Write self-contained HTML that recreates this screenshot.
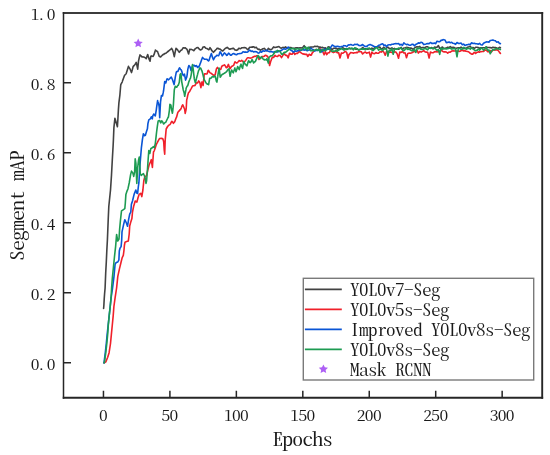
<!DOCTYPE html>
<html><head><meta charset="utf-8"><title>Segment mAP vs Epochs</title>
<style>html,body{margin:0;padding:0;background:#fff}svg{display:block}</style></head>
<body><svg width="550" height="455" viewBox="0 0 550 455">
<rect width="550" height="455" fill="#fff"/>
<polyline fill="none" stroke="#424242" stroke-width="1.60" stroke-linejoin="round" stroke-linecap="round" points="103.6,308.5 103.9,305.0 104.2,299.1 104.6,293.5 105.1,288.0 105.7,273.0 106.3,262.0 106.8,251.0 107.4,240.0 108.3,217.5 108.8,206.5 110.5,190.0 111.5,175.0 112.3,160.0 113.1,146.0 113.4,140.0 113.9,127.7 114.9,118.3 117.4,126.7 117.9,118.8 118.4,109.9 118.9,102.9 119.4,98.9 119.9,95.0 120.7,85.3 120.8,84.6 122.1,82.1 122.3,81.6 123.4,78.5 124.6,75.3 124.7,75.2 126.1,73.7 126.2,73.6 127.4,69.8 128.5,66.3 128.7,66.8 130.0,68.9 130.0,69.0 131.4,72.3 131.5,72.6 132.7,68.2 133.1,66.6 134.0,65.6 134.6,65.0 135.4,64.0 136.2,62.4 136.7,64.4 137.7,69.1 138.0,66.1 138.5,61.2 139.3,57.5 140.0,54.9 140.7,55.5 142.0,56.9 142.3,57.0 143.3,56.9 144.6,57.3 144.7,57.4 146.0,58.4 146.2,58.6 147.3,55.6 147.7,54.6 148.6,57.6 149.2,59.5 150.0,61.2 150.0,61.3 150.8,56.3 151.3,55.9 152.6,56.3 153.1,56.5 154.0,54.7 155.3,50.4 155.4,50.0 156.6,51.0 157.7,51.8 157.9,52.5 159.2,56.2 159.3,56.2 160.6,57.0 161.5,55.9 161.9,55.6 163.3,54.4 163.8,54.4 164.6,53.6 165.9,53.3 166.2,52.8 167.2,52.1 167.3,52.0 168.6,51.0 169.4,50.3 169.9,49.9 171.2,48.8 171.6,48.4 172.6,50.2 173.2,51.9 173.9,54.9 174.3,56.6 175.2,51.9 176.0,48.3 176.6,48.9 177.6,49.9 177.9,50.4 179.2,52.2 179.3,52.3 180.5,50.7 181.5,50.0 181.9,49.8 183.2,47.7 183.7,47.7 184.5,48.1 185.3,47.8 185.9,48.4 187.0,49.4 187.2,49.8 188.5,53.8 188.6,54.0 189.7,49.4 189.8,49.3 191.2,49.5 191.5,49.4 192.5,49.9 193.6,50.5 193.8,50.7 195.2,48.7 195.8,48.5 196.5,47.8 197.8,47.6 198.0,47.6 199.1,48.9 200.0,49.8 200.5,49.9 201.8,49.3 202.4,48.3 203.1,47.0 204.5,46.9 204.5,46.9 205.8,48.3 206.8,48.5 207.1,48.6 208.5,49.6 209.0,49.7 209.8,48.0 210.0,47.6 211.1,49.3 211.7,50.4 212.4,51.2 213.4,52.3 213.8,51.9 215.0,50.6 215.1,50.5 216.4,49.2 217.0,48.4 217.8,48.2 219.1,49.0 220.0,49.1 220.4,49.3 221.7,50.5 222.5,51.0 223.1,50.7 224.4,49.3 225.0,48.7 225.7,48.2 227.1,47.4 227.5,47.5 228.4,48.5 229.7,49.2 230.0,49.3 231.0,48.8 232.4,48.6 233.0,48.3 233.7,48.4 235.0,49.9 236.4,50.1 236.6,50.4 237.7,49.8 238.8,48.2 239.0,48.2 240.3,48.7 241.5,48.1 241.7,47.8 243.0,47.7 244.3,47.6 244.3,47.6 245.7,47.7 247.0,49.0 247.6,49.6 248.3,49.2 249.7,47.3 250.0,47.3 251.0,47.2 252.0,46.9 252.3,47.2 253.6,46.7 255.0,47.8 256.3,47.3 256.4,47.4 257.6,49.1 258.6,49.4 259.0,49.0 260.3,50.2 261.6,49.6 262.9,48.8 263.0,48.8 264.3,48.4 265.6,49.8 266.9,50.8 267.4,50.0 268.3,48.3 269.6,49.4 270.9,49.7 271.8,49.1 272.2,48.7 273.6,46.9 274.9,47.5 275.0,47.5 276.2,47.2 277.6,46.9 278.9,46.5 280.0,47.5 280.2,47.7 281.5,48.2 282.9,47.3 284.2,47.9 285.5,46.9 286.9,47.9 288.2,47.7 289.5,47.5 290.0,47.5 290.8,47.5 292.2,48.2 293.5,48.3 294.8,48.1 296.2,47.8 297.5,47.7 298.8,48.0 300.0,47.8 300.2,47.8 301.5,48.0 302.8,47.4 304.1,45.6 305.5,47.5 306.8,48.8 308.1,48.0 309.5,47.3 310.8,47.1 312.1,47.0 313.4,47.0 313.6,46.9 314.8,46.3 316.1,46.5 317.4,46.3 318.8,47.1 320.1,47.0 321.0,47.4 321.4,47.6 322.7,47.4 324.1,48.1 325.4,47.9 326.7,49.3 328.1,46.9 329.4,47.1 330.0,47.6 330.7,48.3 332.0,49.8 333.4,48.4 334.7,48.3 336.0,48.1 337.4,49.2 338.7,48.5 340.0,49.0 340.0,49.0 341.4,48.4 342.7,47.6 344.0,48.4 345.3,48.8 346.7,49.5 348.0,48.7 349.3,48.1 350.7,48.7 352.0,48.7 353.3,48.7 354.6,48.5 356.0,49.2 357.3,48.9 358.6,49.9 360.0,49.6 360.0,49.6 361.3,49.2 362.6,47.5 363.9,48.5 365.3,48.7 366.6,49.0 367.9,49.3 369.3,48.3 370.6,48.9 371.9,48.1 373.2,49.6 374.6,47.7 375.9,46.8 377.2,46.7 378.6,47.1 379.9,47.1 380.0,47.3 381.2,49.2 382.6,48.3 383.9,47.2 385.2,48.7 386.5,47.9 387.9,47.2 389.2,48.4 390.5,48.6 391.9,47.9 393.2,49.0 394.5,48.4 395.8,49.3 397.2,48.8 398.5,49.3 399.8,48.5 400.0,48.3 401.2,47.3 402.5,49.5 403.8,48.0 405.1,47.8 406.5,47.4 407.8,47.6 409.1,48.0 410.5,48.1 411.8,48.4 413.1,49.3 414.4,48.2 415.8,47.1 417.1,46.8 418.4,47.0 419.8,46.4 420.0,46.7 421.1,47.9 422.4,47.5 423.7,47.5 425.1,47.7 426.4,46.7 427.7,46.8 429.1,47.9 430.4,48.2 431.7,47.5 433.1,48.9 434.4,47.1 435.7,47.2 437.0,47.3 438.4,45.6 439.7,48.3 440.0,48.3 441.0,48.1 442.4,47.0 443.7,48.8 445.0,48.4 446.3,48.1 447.7,47.3 449.0,47.6 450.3,46.5 451.7,47.8 453.0,47.3 454.3,47.6 455.6,48.4 457.0,48.0 458.3,47.8 459.6,47.8 460.0,47.6 461.0,47.1 462.3,48.0 463.6,48.7 464.9,48.4 466.3,48.4 467.6,47.2 468.9,46.8 470.3,46.3 471.6,48.1 472.9,47.5 474.3,48.5 475.6,47.3 476.9,47.2 478.2,47.5 479.6,48.2 480.0,48.1 480.9,47.8 482.2,47.8 483.6,47.7 484.9,47.8 486.2,46.9 487.5,47.5 488.9,47.5 490.2,47.6 491.5,48.0 492.9,47.3 494.2,47.6 495.5,47.5 496.8,48.0 498.2,48.4 499.5,47.3 500.4,47.8"/>
<polyline fill="none" stroke="#f0202a" stroke-width="1.60" stroke-linejoin="round" stroke-linecap="round" points="104.2,362.9 105.8,361.9 107.7,357.3 109.1,352.7 110.5,343.5 111.4,334.2 112.3,325.0 113.2,315.7 113.9,306.5 115.2,297.2 116.6,288.0 117.8,276.3 119.5,268.6 121.1,262.0 122.2,257.6 123.3,255.4 123.9,251.0 124.4,245.5 125.0,242.2 126.6,241.6 128.3,241.1 129.2,234.0 129.7,226.0 130.8,221.9 131.9,218.6 132.5,212.0 133.6,206.5 135.2,201.0 136.9,202.1 138.0,197.7 139.1,194.4 140.7,193.3 141.8,196.6 142.9,190.0 143.8,180.8 144.7,177.3 146.5,175.5 147.8,170.0 149.1,165.0 150.4,162.0 151.3,159.7 151.3,159.8 152.4,167.4 152.6,164.1 153.5,152.0 154.0,151.2 154.3,150.6 155.3,147.7 155.3,147.7 156.3,144.6 156.6,143.9 157.3,142.7 157.9,141.4 158.2,140.8 159.3,138.8 159.7,138.5 160.6,138.5 161.2,138.2 161.9,138.6 162.7,138.5 163.3,140.3 163.7,141.9 164.2,149.8 164.6,153.2 164.7,154.1 165.2,139.9 165.9,132.1 166.2,129.0 167.3,127.0 167.6,126.5 168.6,125.4 168.9,125.1 169.9,124.6 170.4,123.8 171.2,122.3 171.9,121.3 172.6,122.1 173.4,123.3 173.9,122.6 174.8,121.6 175.2,120.4 176.3,117.5 176.6,117.0 177.8,112.5 177.9,112.3 179.2,110.9 179.8,110.0 180.5,109.5 181.3,108.1 181.9,106.2 182.8,104.8 183.2,105.8 184.5,109.0 184.7,109.4 185.2,113.4 185.9,110.3 186.2,108.7 186.7,99.9 187.2,98.1 187.7,95.4 188.5,92.8 189.2,92.0 189.8,91.2 190.7,89.4 191.2,88.6 192.1,86.8 192.5,86.1 193.6,85.7 193.8,85.7 195.0,85.4 195.2,85.2 196.0,83.6 196.5,82.9 197.6,82.9 197.8,82.7 198.7,80.9 199.1,81.4 199.8,82.4 200.5,85.9 200.9,87.7 201.8,82.6 202.0,81.9 203.1,85.6 203.1,85.4 204.2,74.7 204.5,73.9 205.3,73.8 205.8,73.9 207.0,74.0 207.1,73.8 208.1,70.5 208.5,70.4 209.7,72.5 209.8,72.6 211.1,73.3 211.9,73.9 212.4,74.4 213.6,75.2 213.8,75.4 215.1,74.8 215.2,74.7 216.3,69.5 216.4,69.0 217.4,67.4 217.8,68.0 219.1,69.3 219.1,69.3 220.4,69.1 220.7,69.4 221.7,66.4 221.8,66.3 223.1,65.5 223.5,65.3 224.4,64.9 224.6,64.8 225.7,66.6 226.2,67.7 227.1,67.4 227.3,66.8 228.4,64.4 228.4,64.5 229.7,68.1 230.1,68.7 231.0,67.3 231.7,66.2 232.2,66.3 232.4,66.1 233.7,65.3 234.4,63.2 235.0,61.8 236.4,63.0 236.6,62.9 237.7,62.4 238.8,60.9 239.0,60.6 240.3,61.2 241.0,61.0 241.7,60.4 243.0,61.7 243.2,61.6 244.3,61.6 245.4,60.8 245.7,60.4 247.0,58.3 247.6,57.7 248.3,57.7 249.7,58.0 250.0,58.1 251.0,58.0 252.0,57.8 252.3,57.5 253.6,56.7 254.2,56.4 255.0,56.4 256.3,55.9 256.4,55.9 257.6,55.9 259.0,59.4 260.3,58.6 260.8,57.8 261.6,56.6 262.9,56.5 263.0,56.6 264.3,56.3 265.2,55.2 265.6,55.2 266.9,56.0 267.4,56.3 268.3,57.7 269.6,65.5 270.7,61.2 270.9,60.9 272.2,57.5 272.9,57.1 273.6,57.5 274.9,55.3 275.0,55.3 276.2,56.3 277.3,56.5 277.6,56.4 278.9,55.2 280.0,55.5 280.2,55.6 281.5,57.7 282.9,55.4 283.6,54.3 284.2,53.7 285.5,55.3 286.0,55.4 286.9,55.3 288.2,57.9 289.5,53.2 290.0,53.3 290.8,54.1 292.2,54.1 292.3,54.1 293.5,52.0 294.5,53.6 294.8,54.4 296.2,53.3 296.8,53.3 297.5,53.4 298.8,51.7 300.0,51.9 300.2,52.1 301.5,53.1 302.7,53.9 302.8,53.9 304.1,54.1 305.5,54.4 305.5,54.4 306.8,54.3 307.7,56.3 308.1,56.0 309.1,54.3 309.5,54.5 310.8,55.3 311.4,55.0 312.1,53.1 313.4,51.7 313.6,51.2 314.8,50.3 316.0,49.7 316.1,49.5 317.4,50.3 318.8,49.0 319.1,48.7 320.1,48.7 321.4,50.4 321.8,50.9 322.7,51.5 324.1,54.8 325.4,51.7 326.7,54.6 327.3,53.9 328.1,52.8 329.4,52.6 330.0,51.3 330.7,50.2 332.0,51.6 333.0,52.4 333.4,52.6 334.7,52.1 336.0,51.6 336.2,51.7 337.4,52.8 338.5,52.9 338.7,52.8 340.0,58.0 341.4,53.0 341.5,53.1 342.7,53.3 344.0,52.4 345.3,51.3 345.4,51.4 346.7,52.5 348.0,58.1 349.0,54.2 349.3,54.2 350.7,52.5 352.0,52.7 353.1,53.1 353.3,53.1 354.6,52.8 356.0,52.5 356.2,52.4 357.3,52.6 358.6,51.5 360.0,51.8 361.3,51.7 362.3,53.6 362.6,54.0 363.9,52.7 365.3,52.1 365.4,52.1 366.6,53.1 367.9,52.8 368.5,52.8 369.3,52.1 370.6,57.1 371.9,52.1 372.3,52.4 373.2,53.5 374.6,53.7 375.9,52.5 376.2,52.8 377.2,53.2 378.6,53.3 379.9,51.7 380.0,51.7 381.2,52.1 382.6,50.9 383.9,52.2 385.2,55.2 386.5,51.4 387.0,51.5 387.9,51.6 389.2,52.3 390.5,51.9 391.9,52.4 392.0,52.4 393.2,52.8 394.5,51.9 395.8,52.0 397.2,53.9 398.5,58.3 399.8,52.0 400.5,52.2 401.2,52.4 402.5,51.5 403.8,53.0 404.0,53.0 405.1,52.9 406.5,57.8 407.8,53.5 408.5,53.3 409.1,53.1 410.5,53.3 411.8,52.8 413.1,52.0 414.4,51.4 415.0,51.5 415.8,51.7 417.1,50.3 418.4,53.1 419.8,51.4 421.1,52.1 422.0,51.6 422.4,51.4 423.7,50.7 425.1,51.9 426.4,52.1 427.7,52.3 429.1,58.0 430.4,52.1 431.5,52.6 431.7,52.6 433.1,52.7 434.4,51.9 435.7,51.6 437.0,52.0 438.0,51.7 438.4,51.7 439.7,51.7 441.0,49.9 442.4,51.2 443.7,51.9 445.0,51.7 445.0,51.7 446.3,52.0 447.7,53.2 449.0,52.1 450.3,52.2 451.7,51.1 452.0,51.0 453.0,50.8 454.3,51.0 455.6,50.7 457.0,51.4 458.3,50.9 459.6,51.4 460.0,51.2 461.0,50.6 462.3,50.3 463.6,50.9 464.9,50.9 466.0,51.1 466.3,51.2 467.6,51.6 468.9,52.0 470.3,53.3 471.6,54.1 472.7,54.1 472.9,53.9 474.3,52.4 475.0,52.6 475.6,53.5 476.9,52.3 478.0,52.2 478.2,51.8 479.6,52.1 480.0,51.7 480.9,51.8 482.2,51.5 483.5,51.5 483.6,51.5 484.9,50.1 486.2,50.0 487.5,51.6 488.9,51.8 489.6,51.1 490.2,50.5 491.5,51.9 492.9,50.0 494.2,49.7 495.5,50.1 495.8,49.9 496.8,49.7 498.2,50.7 498.5,50.9 499.5,52.4 500.4,53.4"/>
<polyline fill="none" stroke="#0a55d5" stroke-width="1.60" stroke-linejoin="round" stroke-linecap="round" points="104.0,362.9 105.3,352.7 106.3,343.5 107.2,334.2 108.2,324.9 109.2,315.7 110.2,306.5 111.2,297.2 112.3,290.0 114.0,276.3 114.5,270.8 115.1,264.2 116.2,262.5 117.8,262.0 118.9,259.8 119.3,251.0 120.0,248.2 121.1,246.6 121.7,240.0 122.0,231.8 123.7,224.1 124.8,219.7 126.4,223.0 127.5,226.3 128.6,219.7 129.7,214.2 130.8,212.0 131.4,204.3 132.5,201.0 134.1,194.4 135.8,190.0 136.9,193.3 137.6,193.5 138.3,187.0 138.9,182.7 139.9,166.0 140.7,156.0 141.4,147.6 142.4,139.7 143.4,133.7 144.4,135.7 145.4,135.2 146.4,131.8 147.4,128.8 147.9,123.8 148.8,119.9 150.3,118.9 151.3,116.8 151.3,116.8 152.3,118.8 152.6,116.8 152.8,115.8 153.8,114.0 154.0,114.3 155.3,115.9 155.3,115.9 155.8,112.9 156.3,109.8 156.6,107.4 157.6,100.6 157.9,101.8 158.7,104.0 159.2,106.9 159.3,108.6 159.7,117.8 160.5,102.1 160.6,101.3 161.4,95.6 161.9,95.8 162.5,96.0 163.3,92.2 163.6,90.5 164.6,82.4 164.7,81.6 165.8,82.9 165.9,82.6 166.9,79.0 167.3,78.9 168.6,79.8 168.6,79.8 169.9,78.5 170.2,78.0 171.2,77.2 171.3,77.1 172.4,79.5 172.6,80.0 173.9,84.0 174.1,84.6 175.2,77.8 175.2,77.7 176.3,72.1 176.6,71.6 177.9,71.5 177.9,71.4 179.2,68.2 179.6,67.8 180.5,69.4 181.2,69.9 181.9,71.6 182.3,73.4 183.2,75.4 183.4,75.7 184.5,74.1 184.5,74.3 185.6,80.1 185.9,79.2 186.7,77.3 187.2,74.3 187.8,69.4 188.5,66.6 188.9,65.5 189.8,66.5 190.0,66.7 191.0,70.5 191.2,70.1 192.5,65.9 192.7,65.5 193.8,65.3 194.3,65.4 195.2,66.4 196.0,65.7 196.5,65.6 197.6,67.5 197.8,67.5 199.1,66.1 199.3,66.2 200.4,63.1 200.5,63.0 201.8,59.3 202.6,57.4 203.1,58.0 204.3,59.1 204.5,59.2 205.8,59.3 205.9,59.3 207.1,59.3 207.5,60.1 208.5,60.9 209.2,60.0 209.8,57.7 211.1,54.3 211.4,53.5 212.4,57.1 213.5,59.8 213.8,59.1 215.0,56.9 215.1,56.8 216.4,55.8 216.8,55.2 217.8,55.6 218.5,55.8 219.1,54.6 220.1,51.8 220.4,51.9 221.7,54.7 222.3,55.8 223.1,54.8 224.4,52.9 224.4,52.9 225.7,54.0 226.6,55.4 227.1,55.3 228.4,53.5 228.8,53.2 229.7,54.1 230.5,55.2 231.0,55.3 232.1,54.3 232.4,54.0 233.7,53.5 233.7,53.5 235.0,54.4 235.3,54.2 236.4,54.8 237.0,54.5 237.7,53.7 238.6,53.8 239.0,53.7 239.7,53.5 240.3,53.5 240.8,53.5 241.7,53.3 243.0,51.8 243.0,51.8 244.3,52.0 244.7,52.2 245.7,51.9 246.3,52.2 247.0,52.3 248.0,51.8 248.3,51.5 249.5,50.1 249.7,50.2 251.0,51.2 251.2,51.4 252.3,51.1 252.8,51.3 253.6,52.0 255.0,51.6 255.0,51.6 256.3,51.7 256.4,51.7 257.6,52.7 258.6,53.1 259.0,53.0 260.3,51.6 261.6,52.2 262.9,50.7 263.0,50.7 264.3,51.3 265.6,50.8 266.9,50.2 267.4,50.6 268.3,51.3 269.6,51.6 270.9,51.5 271.8,51.6 272.2,51.9 273.6,52.0 274.0,52.2 274.9,51.6 276.2,51.2 276.2,51.2 277.6,52.0 278.4,51.4 278.9,51.4 280.0,51.0 280.2,50.7 281.5,50.4 282.7,49.4 282.9,49.2 284.2,48.8 285.5,49.3 286.9,48.3 288.2,47.1 288.2,47.1 289.5,48.4 290.8,50.2 290.9,50.3 292.2,50.9 293.5,52.2 293.6,52.1 294.8,50.9 296.2,51.2 297.5,50.9 298.8,50.3 300.0,50.5 300.2,50.5 301.5,50.3 302.8,49.2 303.6,49.7 304.1,50.3 305.5,49.6 306.8,50.6 307.3,50.8 308.1,50.3 309.5,49.8 310.8,48.3 310.9,48.2 312.1,49.1 313.4,49.8 314.5,51.0 314.8,51.1 316.1,50.2 317.4,50.4 318.8,50.3 320.1,49.6 321.4,52.0 322.7,50.9 322.7,50.9 324.1,49.2 325.4,50.3 326.7,48.8 327.3,48.9 328.1,49.1 329.4,49.3 330.0,48.8 330.7,47.4 332.0,45.4 332.3,45.0 333.4,45.6 334.7,46.6 336.0,46.5 336.2,46.6 337.4,46.2 338.7,46.5 340.0,47.0 340.8,46.8 341.4,46.5 342.7,46.5 343.8,45.5 344.0,45.6 345.3,45.7 346.7,46.6 346.9,46.6 348.0,45.1 349.3,44.9 350.7,44.5 350.8,44.5 352.0,45.0 353.3,45.3 354.6,44.4 354.6,44.4 356.0,44.5 357.3,44.2 358.6,45.3 359.0,45.5 360.0,45.6 361.3,45.5 362.6,44.5 363.8,45.6 363.9,45.8 365.3,46.5 366.6,46.3 366.9,46.4 367.9,45.4 369.3,44.7 370.0,44.5 370.6,44.8 371.9,45.3 373.2,46.0 374.6,46.8 374.6,46.8 375.9,46.9 377.2,46.5 378.6,45.3 379.9,45.0 380.0,44.9 381.2,44.2 382.6,43.7 383.0,44.1 383.9,45.5 385.2,45.0 386.2,46.4 386.5,46.6 387.9,45.0 389.2,44.7 390.0,44.8 390.5,44.9 391.9,44.3 393.2,44.3 394.5,43.8 395.4,43.6 395.8,43.5 397.2,43.7 398.5,43.5 399.8,44.9 401.2,44.3 402.5,45.3 403.0,44.4 403.8,42.8 405.1,43.9 406.5,44.6 407.8,44.3 409.1,45.2 410.5,45.2 410.8,45.1 411.8,44.4 413.1,44.4 414.4,45.8 415.8,44.4 417.1,43.8 418.4,43.0 418.5,42.9 419.8,43.1 421.1,42.3 422.4,42.7 423.7,44.6 425.1,44.2 426.2,43.9 426.4,43.8 427.7,43.5 429.1,43.6 430.4,42.5 430.8,42.6 431.7,43.4 433.1,43.4 434.0,43.3 434.4,43.0 435.7,43.7 437.0,41.2 438.4,41.6 438.5,41.6 439.7,41.7 441.0,40.4 442.4,40.1 443.1,39.6 443.7,39.7 445.0,40.0 446.3,42.6 447.7,42.4 447.7,42.4 449.0,41.9 450.3,42.8 451.0,42.5 451.7,42.3 453.0,43.3 454.2,43.5 454.3,43.5 455.6,44.3 457.0,42.5 458.3,43.4 458.8,43.4 459.6,43.5 461.0,43.1 462.3,44.7 463.5,44.3 463.6,44.2 464.9,45.4 466.3,44.9 467.0,44.8 467.6,44.8 468.9,44.3 470.3,44.5 471.2,43.3 471.6,42.8 472.9,43.5 474.3,43.3 475.6,43.8 475.8,43.8 476.9,43.8 478.2,44.2 479.6,43.4 480.4,44.3 480.9,44.7 482.2,45.0 483.6,43.2 484.9,42.5 485.0,42.4 486.2,41.9 487.5,42.0 488.1,41.9 488.9,42.3 490.2,40.5 491.5,40.3 492.7,40.0 492.9,40.0 494.2,40.5 495.5,40.8 495.8,41.2 496.8,42.2 498.2,41.8 499.5,43.4 500.4,43.6"/>
<polyline fill="none" stroke="#1d9b52" stroke-width="1.60" stroke-linejoin="round" stroke-linecap="round" points="104.0,362.9 104.5,361.9 105.8,352.7 106.8,343.5 107.7,334.2 108.3,324.9 109.2,315.7 110.2,306.5 111.1,297.2 111.6,288.0 112.3,278.5 113.4,267.5 114.5,256.5 115.6,246.6 116.6,234.5 117.7,241.0 119.0,239.0 119.6,229.6 120.4,220.8 121.5,210.9 123.1,209.8 124.8,208.7 125.3,203.2 125.9,194.4 127.0,191.1 128.0,188.7 129.3,182.5 130.6,174.6 131.5,171.1 132.8,172.9 133.7,176.4 134.6,172.0 135.2,158.8 135.9,163.2 136.4,174.6 136.8,183.4 137.2,176.4 137.7,167.6 138.5,160.5 139.3,157.0 139.9,167.6 140.3,173.7 141.2,175.5 142.1,174.6 143.4,173.7 144.3,175.5 145.1,178.1 146.0,183.4 146.6,180.8 147.3,172.0 148.2,158.8 148.8,150.6 149.8,153.5 150.8,148.6 151.3,148.3 152.3,147.7 152.6,147.4 153.3,146.7 154.0,147.3 154.3,147.6 155.3,143.8 155.3,143.7 156.3,134.6 156.6,132.0 157.3,126.7 157.9,122.6 158.2,120.9 159.3,120.5 159.7,120.6 160.6,122.6 160.7,122.8 161.7,120.8 161.9,121.0 162.7,122.0 163.3,123.3 163.7,124.0 164.6,123.0 164.7,122.9 165.9,122.1 165.9,122.0 167.3,119.0 167.4,118.7 168.4,117.0 168.6,115.8 169.4,110.3 169.9,104.3 169.9,104.3 170.9,105.2 171.2,107.4 171.4,108.8 172.4,113.2 172.6,112.0 172.9,109.5 173.4,104.6 173.8,97.7 173.9,96.2 174.3,89.7 175.2,86.5 175.3,86.3 176.6,87.3 176.8,87.2 177.9,85.2 178.3,85.2 179.2,82.4 179.3,82.1 180.1,74.6 180.5,74.1 180.9,73.6 181.8,82.4 181.9,82.6 182.9,88.0 183.2,89.7 184.2,93.1 184.5,95.2 184.7,96.3 185.2,93.5 185.9,89.9 186.2,88.0 187.2,86.1 187.7,85.7 188.5,83.1 188.8,81.9 189.7,79.7 189.8,79.2 190.5,78.1 191.2,74.8 191.6,71.9 192.5,64.6 192.5,64.7 193.2,69.2 193.8,74.4 194.3,78.7 195.2,82.2 195.4,82.9 196.5,78.4 196.5,78.3 197.6,74.4 197.8,73.4 198.7,70.3 199.1,69.6 199.8,67.9 200.5,68.1 200.9,68.6 201.8,70.7 202.0,71.0 203.1,75.0 203.1,75.2 204.2,79.9 204.5,80.0 205.8,82.5 205.9,82.7 207.1,84.1 207.5,84.1 208.5,84.5 208.6,84.6 209.7,78.4 209.8,78.3 211.1,78.1 211.4,77.7 212.4,76.4 213.6,76.9 213.8,76.9 215.1,76.0 215.2,76.1 216.4,81.4 216.9,82.1 217.8,76.2 218.0,74.5 219.1,68.2 219.1,68.1 220.2,77.1 220.4,77.0 221.7,74.8 221.8,74.8 223.1,74.0 223.5,73.8 224.4,73.2 225.1,72.8 225.7,72.4 226.8,71.4 227.1,70.8 227.9,69.6 228.4,69.5 229.0,68.8 229.7,73.8 230.1,76.3 231.0,72.1 231.6,70.0 232.4,71.5 233.3,72.9 233.7,71.4 234.9,67.9 235.0,68.4 236.0,71.7 236.4,70.7 237.7,66.5 237.7,66.5 239.0,69.2 239.3,69.6 240.3,65.8 241.0,64.2 241.7,66.7 242.6,68.5 243.0,65.8 243.7,61.5 244.3,62.7 245.4,64.5 245.7,64.7 247.0,65.8 247.0,65.8 248.3,61.3 248.7,60.6 249.7,62.4 250.4,62.6 251.0,61.8 252.0,59.7 252.3,59.9 253.6,63.0 253.6,62.9 255.0,61.5 255.3,61.6 256.3,59.4 256.9,57.7 257.6,56.7 258.0,55.6 259.0,56.6 259.7,58.4 260.3,58.2 261.5,56.9 261.6,57.0 262.9,58.8 263.0,58.9 264.3,59.9 264.6,59.6 265.6,59.7 266.3,59.9 266.9,58.7 268.3,63.1 269.0,57.4 269.6,56.9 270.7,55.9 270.9,55.9 272.2,55.8 272.5,55.5 273.6,54.1 274.0,53.6 274.9,51.8 275.6,52.0 276.2,52.1 277.3,50.3 277.6,50.4 278.9,50.8 280.0,51.6 280.2,51.7 281.5,54.1 282.3,54.5 282.9,53.8 284.2,52.4 284.5,52.2 285.5,52.4 286.9,51.2 287.0,51.1 288.2,50.0 289.5,49.3 290.0,49.0 290.8,48.6 292.2,48.7 292.7,48.4 293.5,48.6 294.8,49.7 295.0,49.8 296.2,49.1 297.5,48.7 298.2,48.7 298.8,49.0 300.2,49.7 301.5,50.0 301.5,50.0 302.8,48.7 304.1,48.1 304.5,47.9 305.5,46.9 306.8,50.0 308.1,47.3 308.2,47.2 309.5,48.7 310.0,50.2 310.8,50.8 312.1,50.6 312.7,50.8 313.4,50.5 314.8,50.2 316.1,49.3 316.4,49.4 317.4,50.3 318.8,48.9 320.1,52.5 321.4,50.0 322.7,49.6 322.7,49.6 324.1,50.9 325.4,50.2 325.5,50.3 326.7,49.8 328.1,47.6 328.2,47.5 329.4,48.9 330.0,49.7 330.7,50.0 332.0,51.5 333.4,51.0 334.7,51.3 336.0,50.2 337.4,51.3 338.7,49.9 340.0,49.4 340.0,49.4 341.4,48.5 342.7,49.3 344.0,50.1 345.3,49.1 346.7,48.9 348.0,48.8 349.3,48.8 350.0,48.7 350.7,48.6 352.0,48.0 353.3,49.9 354.6,47.9 356.0,48.1 357.3,49.1 358.6,49.9 360.0,49.3 360.0,49.3 361.3,49.0 362.6,49.1 363.9,48.9 365.3,49.7 366.6,48.9 367.9,48.2 369.3,48.4 370.0,48.7 370.6,48.9 371.9,49.9 373.2,50.5 374.6,49.1 375.9,47.9 377.2,47.6 378.6,50.2 379.9,49.1 380.0,49.1 381.2,49.4 382.6,50.5 383.9,49.0 384.0,48.9 385.2,49.0 386.5,48.9 387.9,56.1 389.2,50.2 390.0,50.7 390.5,50.8 391.9,48.6 393.2,54.2 394.5,49.2 395.8,49.1 396.0,49.1 397.2,49.2 398.5,48.0 399.8,48.4 401.2,48.0 402.5,50.0 403.8,50.8 405.0,49.6 405.1,49.5 406.5,48.1 407.8,49.5 409.1,48.9 410.5,50.1 411.8,50.7 412.0,50.7 413.1,50.7 414.4,49.1 415.8,52.5 417.1,48.3 418.0,48.6 418.4,48.7 419.8,48.1 421.1,49.5 422.4,49.4 423.7,48.9 425.0,48.4 425.1,48.4 426.4,49.0 427.7,49.8 429.1,47.5 430.4,48.4 431.7,48.3 432.0,48.3 433.1,48.0 434.4,48.3 435.7,48.9 437.0,50.4 437.0,50.4 438.4,49.5 439.7,54.4 441.0,48.0 442.4,49.3 442.5,49.2 443.7,48.4 445.0,48.5 446.3,49.0 447.0,48.8 447.7,48.7 449.0,48.3 450.3,48.3 451.7,49.1 452.0,49.0 453.0,48.7 454.3,48.7 455.6,48.9 457.0,56.8 458.3,48.7 459.0,48.5 459.6,48.4 461.0,49.3 462.3,49.1 463.6,47.4 464.9,48.0 465.0,48.1 466.3,49.2 467.6,48.5 468.9,48.2 470.3,49.2 471.6,47.9 472.0,48.0 472.9,48.8 474.3,49.9 475.6,50.8 476.9,50.1 477.3,50.1 478.2,49.1 479.6,50.2 480.9,48.2 481.0,48.2 482.2,48.4 483.6,50.3 484.9,48.8 486.0,47.3 486.2,47.0 487.5,50.3 488.9,49.9 490.2,53.8 491.5,51.1 492.0,50.5 492.9,49.4 494.2,49.9 495.5,48.9 496.0,48.7 496.8,48.4 498.2,48.9 499.5,49.3 500.4,49.6"/>
<polygon fill="#ad5ff5" points="138.2,38.6 139.6,41.5 142.8,41.9 140.4,44.1 141.0,47.3 138.2,45.7 135.4,47.3 136.0,44.1 133.6,41.9 136.8,41.5"/>
<path d="M62.75 13.00H543.15" stroke="#3c3c3c" stroke-width="2" fill="none"/>
<path d="M62.75 397.80H543.15" stroke="#262626" stroke-width="2" fill="none"/>
<path d="M63.50 12.00V398.80" stroke="#262626" stroke-width="1.5" fill="none"/>
<path d="M542.20 12.00V398.80" stroke="#262626" stroke-width="1.9" fill="none"/>
<path d="M63.50 362.66H71.00 M63.50 292.66H71.00 M63.50 222.66H71.00 M63.50 152.66H71.00 M63.50 82.66H71.00 M103.46 397.80V390.80 M169.91 397.80V390.80 M236.36 397.80V390.80 M302.81 397.80V390.80 M369.26 397.80V390.80 M435.71 397.80V390.80 M502.16 397.80V390.80" stroke="#262626" stroke-width="1.5" fill="none"/>
<g font-family="'Noto Serif CJK SC','Liberation Serif',serif" style="font-feature-settings:'hwid'"><text x="29.23 34.52 42.65" y="369.76" font-size="14.60" text-anchor="middle" fill="#1a1a1a" transform="scale(1.200,1)">0.0</text><text x="29.23 34.52 42.65" y="299.76" font-size="14.60" text-anchor="middle" fill="#1a1a1a" transform="scale(1.200,1)">0.2</text><text x="29.23 34.52 42.65" y="229.76" font-size="14.60" text-anchor="middle" fill="#1a1a1a" transform="scale(1.200,1)">0.4</text><text x="29.23 34.52 42.65" y="159.76" font-size="14.60" text-anchor="middle" fill="#1a1a1a" transform="scale(1.200,1)">0.6</text><text x="29.23 34.52 42.65" y="89.76" font-size="14.60" text-anchor="middle" fill="#1a1a1a" transform="scale(1.200,1)">0.8</text><text x="29.23 34.52 42.65" y="19.76" font-size="14.60" text-anchor="middle" fill="#1a1a1a" transform="scale(1.200,1)">1.0</text><text x="86.22" y="420.70" font-size="14.60" text-anchor="middle" fill="#1a1a1a" transform="scale(1.200,1)">0</text><text x="138.24 144.95" y="420.70" font-size="14.60" text-anchor="middle" fill="#1a1a1a" transform="scale(1.200,1)">50</text><text x="190.26 196.97 203.68" y="420.70" font-size="14.60" text-anchor="middle" fill="#1a1a1a" transform="scale(1.200,1)">100</text><text x="245.63 252.34 259.05" y="420.70" font-size="14.60" text-anchor="middle" fill="#1a1a1a" transform="scale(1.200,1)">150</text><text x="301.01 307.72 314.43" y="420.70" font-size="14.60" text-anchor="middle" fill="#1a1a1a" transform="scale(1.200,1)">200</text><text x="356.38 363.09 369.80" y="420.70" font-size="14.60" text-anchor="middle" fill="#1a1a1a" transform="scale(1.200,1)">250</text><text x="411.76 418.47 425.18" y="420.70" font-size="14.60" text-anchor="middle" fill="#1a1a1a" transform="scale(1.200,1)">300</text></g>
<g font-family="'Noto Serif CJK SC','Liberation Serif',serif" style="font-feature-settings:'hwid'"><text x="231.33 239.67 248.00 256.33 264.67 273.00" y="446.20" font-size="18.10" text-anchor="middle" fill="#1a1a1a" transform="scale(1.200,1)">Epochs</text></g>
<g font-family="'Noto Serif CJK SC','Liberation Serif',serif" style="font-feature-settings:'hwid'" transform="translate(24.2,0) rotate(-90)"><text x="-213.00 -204.67 -196.33 -188.00 -179.67 -171.33 -163.00 -154.67 -146.33 -138.00 -129.67" y="0.00" font-size="18.10" text-anchor="middle" fill="#1a1a1a" transform="scale(1.200,1)">Segment mAP</text></g>
<rect x="303.30" y="278.30" width="230.40" height="101.70" fill="#fff" stroke="#7a7a7a" stroke-width="1.4"/>
<line x1="304.9" x2="341.8" y1="289.40" y2="289.40" stroke="#424242" stroke-width="1.7"/>
<line x1="304.9" x2="341.8" y1="309.40" y2="309.40" stroke="#f0202a" stroke-width="1.7"/>
<line x1="304.9" x2="341.8" y1="329.40" y2="329.40" stroke="#0a55d5" stroke-width="1.7"/>
<line x1="304.9" x2="341.8" y1="349.40" y2="349.40" stroke="#1d9b52" stroke-width="1.7"/>
<polygon fill="#ad5ff5" points="323.4,364.4 324.8,367.3 328.0,367.7 325.6,369.9 326.2,373.1 323.4,371.5 320.6,373.1 321.2,369.9 318.8,367.7 322.0,367.3"/>
<g font-family="'Noto Serif CJK SC','Liberation Serif',serif" style="font-feature-settings:'hwid'"><text x="308.43 316.26 324.09 331.91 339.74 347.57 355.39 363.22 371.04 378.87" y="295.80" font-size="16.60" text-anchor="middle" fill="#1a1a1a" transform="scale(1.150,1)">YOLOv7-Seg</text><text x="308.43 316.26 324.09 331.91 339.74 347.57 355.39 363.22 371.04 378.87 386.70" y="315.80" font-size="16.60" text-anchor="middle" fill="#1a1a1a" transform="scale(1.150,1)">YOLOv5s-Seg</text><text x="308.43 316.26 324.09 331.91 339.74 347.57 355.39 363.22 371.04 378.87 386.70 394.52 402.35 410.17 418.00 425.83 433.65 441.48 449.30 457.13" y="335.80" font-size="16.60" text-anchor="middle" fill="#1a1a1a" transform="scale(1.150,1)">Improved YOLOv8s-Seg</text><text x="308.43 316.26 324.09 331.91 339.74 347.57 355.39 363.22 371.04 378.87 386.70" y="355.80" font-size="16.60" text-anchor="middle" fill="#1a1a1a" transform="scale(1.150,1)">YOLOv8s-Seg</text><text x="308.43 316.26 324.09 331.91 339.74 347.57 355.39 363.22 371.04" y="375.80" font-size="16.60" text-anchor="middle" fill="#1a1a1a" transform="scale(1.150,1)">Mask RCNN</text></g>
</svg></body></html>
